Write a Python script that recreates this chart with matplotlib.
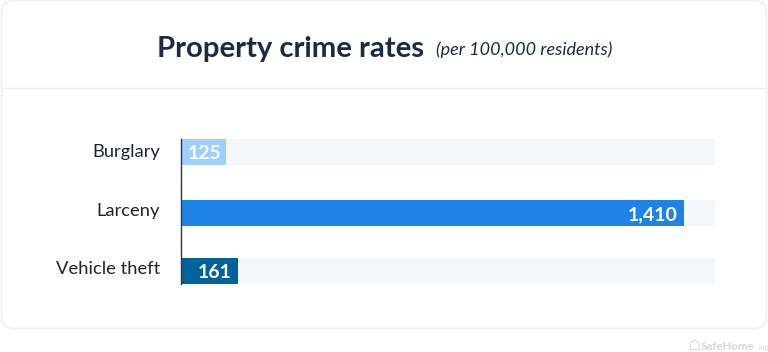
import matplotlib
matplotlib.use('Agg')
import matplotlib.pyplot as plt
from matplotlib.patches import FancyBboxPatch

categories = ['Burglary', 'Larceny', 'Vehicle theft']
values = [125, 1410, 161]
value_labels = ['125', '1,410', '161']
track_max = 1497
colors = ['#a0cfff', '#1f82e6', '#00629b']

W, H = 768, 352
plt.rcParams['font.family'] = ['Lato', 'DejaVu Sans']
ink = '#1c2a44'

fig = plt.figure(figsize=(W / 100, H / 100), dpi=100, facecolor='white')

# background layer in pixel coords
bg = fig.add_axes([0, 0, 1, 1])
bg.set_xlim(0, W)
bg.set_ylim(H, 0)
bg.axis('off')
card = FancyBboxPatch((1.5, 0.5), W - 3, 328, boxstyle='round,pad=0,rounding_size=13',
                      fc='white', ec='#eef0f1', lw=1.2)
bg.add_patch(card)
bg.plot([1.5, W - 1.5], [87.5, 87.5], color='#ebedef', lw=1)

bg.text(157, 48.5, 'Property crime rates', fontsize=21.1, fontweight='bold', color=ink,
        va='center', ha='left')
bg.text(436, 50, '(per 100,000 residents)', fontsize=13, style='italic', color=ink,
        va='center', ha='left')

bg.text(688, 346, '⌂', fontsize=11, color='#d4d6d8', va='center', ha='left')
bg.text(701, 346, 'SafeHome', fontsize=8.3, fontweight='bold', color='#d4d6d8', va='center', ha='left')
bg.text(757.5, 347.5, '.org', fontsize=4.8, color='#d4d6d8', va='center', ha='left')

# plot area: x 181..715 is 0..track_max
left, right = 181, 715
top, bottom = 130, 293
ax = fig.add_axes([left / W, 1 - bottom / H, (right - left) / W, (bottom - top) / H])
ax.patch.set_alpha(0)
ax.set_xlim(0, track_max)
ax.set_ylim(bottom, top)

rows = [152, 213, 271]
ax.barh(rows, [track_max] * 3, height=26, color='#f3f7f9', zorder=1)
ax.barh(rows, values, height=26, color=colors, zorder=2)

# the category labels sit a little above the bar centres in the reference
ax.set_yticks([150.5, 209.5, 267.5])
ax.set_yticklabels(categories, fontsize=13.2, color='#20242e')
ax.set_xticks([])
ax.tick_params(axis='y', length=0, pad=15)
for s in ['top', 'right', 'bottom']:
    ax.spines[s].set_visible(False)
ax.spines['left'].set_bounds(139, 284)
ax.spines['left'].set_color('#2d3748')
ax.spines['left'].set_linewidth(1)
ax.spines['left'].set_zorder(3)

offsets = [-4, -6, -6.5]
for y, v, lab, dx in zip(rows, values, value_labels, offsets):
    ax.annotate(lab, (v, y), xytext=(dx, -1.5), textcoords='offset pixels', color='white',
                fontsize=14, fontweight='bold', ha='right', va='center', zorder=4)

fig.savefig('out.png', dpi=100)
